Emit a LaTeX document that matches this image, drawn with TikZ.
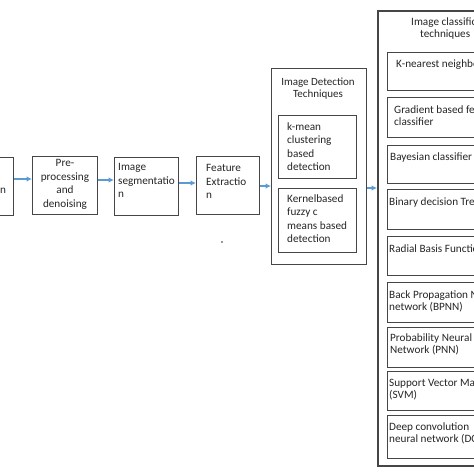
\documentclass[tikz,border=0pt]{standalone}
\usepackage{fontspec}
\setmainfont{Carlito}
\usetikzlibrary{arrows.meta}
\definecolor{linegray}{RGB}{70,70,70}
\definecolor{arrowblue}{RGB}{91,155,213}
\tikzset{
  box/.style={draw=linegray, line width=1.1pt, inner sep=0pt, anchor=north west},
  outerbox/.style={draw=linegray, line width=1.3pt, inner sep=0pt, anchor=north west},
  txt/.style={inner sep=0pt, font=\fontsize{11.2}{13.4}\selectfont, text=black!85},
  txtl/.style={txt, align=left, anchor=north west},
  txtc/.style={txt, align=center, anchor=north},
  arr/.style={draw=arrowblue, line width=1.2pt, -{Latex[length=5.5pt,width=5.5pt]}}
}
\begin{document}
\begin{tikzpicture}[x=1pt,y=-1pt]
\useasboundingbox (0,0) rectangle (474,474);
\clip (0,0) rectangle (474,474);
\fill[white] (0,0) rectangle (474,474);
% pipeline boxes
\node[box, minimum width=73, minimum height=58] (b1) at (-60,157) {};
\node[box, minimum width=65, minimum height=58] (b2) at (32,156) {};
\node[box, minimum width=64, minimum height=58] (b3) at (114,157) {};
\node[box, minimum width=63, minimum height=58] (b4) at (196,156) {};
\node[txtl] (t1) at (0,188) {n};
\node[txtc] (t2) at (65,159.5) {Pre-\\processing\\and\\denoising};
\node[txtl] (t3) at (118,163.5) {Image\\segmentatio\\n};
\node[txtl] (t4) at (206,164.5) {Feature\\Extractio\\n};
\fill[black!80] (222,242) circle (0.9) coordinate (dot);
% detection
\node[outerbox, minimum width=95, minimum height=196] (det) at (271,68) {};
\node[txtc, font=\fontsize{11}{12}\selectfont] (dett) at (318,77.5) {Image Detection\\Techniques};
\node[box, minimum width=78, minimum height=63] (d1) at (278,115) {};
\node[box, minimum width=78, minimum height=64] (d2) at (278,188) {};
\node[txtl] (d1t) at (287,122.5) {k-mean\\clustering\\based\\detection};
\node[txtl] (d2t) at (287,194.5) {Kernelbased\\fuzzy c\\means based\\detection};
% classifier
\node[outerbox, line width=1.6pt, minimum width=220, minimum height=455] (cls) at (377,10) {};
\node[txtl] (clt1) at (411,17.5) {Image classification};
\node[txtl] (clt2) at (420,29.5) {techniques};
\tikzset{cbox/.style={box, minimum width=200}}
\node[cbox, minimum height=38] (c1) at (387,52) {};
\node[cbox, minimum height=40] (c2) at (387,97) {};
\node[cbox, minimum height=38] (c3) at (387,145) {};
\node[cbox, minimum height=40] (c4) at (387,189) {};
\node[cbox, minimum height=39] (c5) at (387,236) {};
\node[cbox, minimum height=40] (c6) at (387,282) {};
\node[cbox, minimum height=40] (c7) at (387,327) {};
\node[cbox, minimum height=39] (c8) at (387,371) {};
\node[cbox, minimum height=43] (c9) at (387,415) {};
\tikzset{ctxt/.style={txtl, font=\fontsize{11.2}{12.2}\selectfont}}
\node[ctxt] (ct1) at (396,59.5) {K-nearest neighbor};
\node[ctxt] (ct2) at (394,105.5) {Gradient based feature\\classifier};
\node[ctxt] (ct3) at (390,152.5) {Bayesian classifier};
\node[ctxt] (ct4) at (389,197.5) {Binary decision Tree};
\node[ctxt] (ct5) at (389,244.5) {Radial Basis Function};
\node[ctxt] (ct6) at (389,290.5) {Back Propagation Neural\\network (BPNN)};
\node[ctxt] (ct7) at (390,333.5) {Probability Neural\\Network (PNN)};
\node[ctxt] (ct8) at (389,378.5) {Support Vector Machine\\(SVM)};
\node[ctxt] (ct9) at (389,422.5) {Deep convolution\\neural network (DCNN)};
% arrows
\coordinate (y1) at (0,179);
\coordinate (y2) at (0,180);
\coordinate (y3) at (0,183);
\coordinate (y4) at (0,186);
\coordinate (y5) at (0,188);
\draw[arr] (b1.east |- y1) -- (b2.west |- y1);
\draw[arr] (b2.east |- y2) -- (b3.west |- y2);
\draw[arr] (b3.east |- y3) -- (b4.west |- y3);
\draw[arr] (b4.east |- y4) -- (det.west |- y4);
\draw[arr] (det.east |- y5) -- (cls.west |- y5);
\end{tikzpicture}
\end{document}
